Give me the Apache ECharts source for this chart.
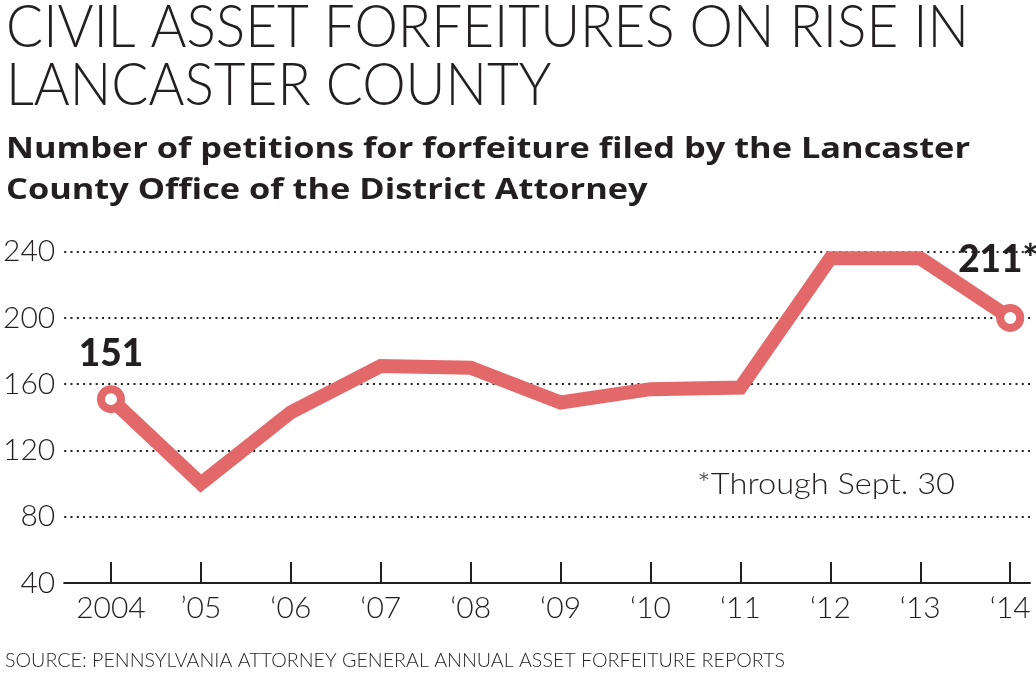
<!DOCTYPE html>
<html>
<head>
<meta charset="utf-8">
<script src="https://cdn.jsdelivr.net/npm/echarts@6/dist/echarts.min.js"></script>
<style>
html,body{margin:0;padding:0;background:#fff;}
#chart{width:1036px;height:675px;}
</style>
</head>
<body>
<div id="chart"></div>
<script>
const xLabels = ['2004', '\u201905', '\u201806', '\u201807', '\u201808', '\u201809', '\u201810', '\u201811', '\u201812', '\u201813', '\u201814'];
const petitions = [151, 100, 143, 171, 170, 149, 157, 158, 236, 236, 200];
const endLabels = ['151', '211*'];
const titleLines = ['CIVIL ASSET FORFEITURES ON RISE IN', 'LANCASTER COUNTY'];
const subtitleLines = ['Number of petitions for forfeiture filed by the Lancaster', 'County Office of the District Attorney'];
const footnote = '*Through Sept. 30';
const sourceText = 'SOURCE: PENNSYLVANIA ATTORNEY GENERAL ANNUAL ASSET FORFEITURE REPORTS';

const INK = '#231f20';
const RED = '#e3686a';

const ctx = document.createElement('canvas').getContext('2d');
function measure(text, font) { ctx.font = font; return ctx.measureText(text).width; }

const titleFont = '300 60px Lato';
const subFont = 'bold 28px "Open Sans"';
const srcFont = '300 19px Lato';
const footFont = '300 30px Lato';

const titleScale = 963 / measure(titleLines[0], titleFont);
const subScale = 964 / measure(subtitleLines[0], subFont);
const srcScale = 780 / measure(sourceText, srcFont);
const footScale = 258 / measure(footnote, footFont);

function txt(text, x, y, font, scale) {
  return { type: 'text', x: x, y: y, scaleX: scale, scaleY: 1, silent: true,
    style: { text: text, x: 0, y: 0, font: font, fill: INK, verticalAlign: 'middle', align: 'left' } };
}

const seriesData = petitions.map((v, i) => {
  const item = { value: [i, v] };
  const last = petitions.length - 1;
  if (i === 0 || i === last) {
    item.symbol = 'circle';
    item.label = i === 0
      ? { show: true, formatter: endLabels[0] }
      : { show: true, formatter: endLabels[1], offset: [-12, -12] };
  } else {
    item.symbol = 'none';
  }
  return item;
});

const chart = echarts.init(document.getElementById('chart'), null, { renderer: 'canvas' });
chart.setOption({
  animation: false,
  backgroundColor: '#fff',
  grid: { left: 64, right: 6, top: 251.7, bottom: 92, containLabel: false },
  xAxis: {
    type: 'value', min: -0.52, max: 10.22,
    axisLine: { show: true, lineStyle: { color: INK, width: 2 } },
    axisTick: { show: true, inside: true, length: 21, customValues: xLabels.map((_, i) => i), lineStyle: { color: INK, width: 2 } },
    axisLabel: { show: true, customValues: xLabels.map((_, i) => i), formatter: v => xLabels[v], color: INK, fontFamily: 'Lato', fontWeight: 300, fontSize: 30, margin: 10 },
    splitLine: { show: false }
  },
  yAxis: {
    type: 'value', min: 40, max: 240, interval: 40,
    axisLine: { show: false }, axisTick: { show: false },
    axisLabel: { color: INK, fontFamily: 'Lato', fontWeight: 300, fontSize: 30, margin: 9 },
    splitLine: { show: true, lineStyle: { color: '#222', width: 2, type: [2, 4.3] } }
  },
  series: [{
    type: 'line',
    data: seriesData,
    symbolSize: 20,
    lineStyle: { color: RED, width: 14, join: 'miter', cap: 'butt' },
    itemStyle: { color: '#fff', borderColor: RED, borderWidth: 8 },
    label: { position: 'top', distance: 13, color: INK, fontFamily: 'Lato', fontWeight: 900, fontSize: 37 },
    z: 5
  }],
  graphic: [
    txt(titleLines[0], 6, 28, titleFont, titleScale),
    txt(titleLines[1], 6, 86, titleFont, titleScale),
    txt(subtitleLines[0], 6, 150, subFont, subScale),
    txt(subtitleLines[1], 6, 191, subFont, subScale),
    txt(footnote, 697, 484, footFont, footScale),
    txt(sourceText, 5, 661, srcFont, srcScale)
  ]
});
</script>
</body>
</html>
